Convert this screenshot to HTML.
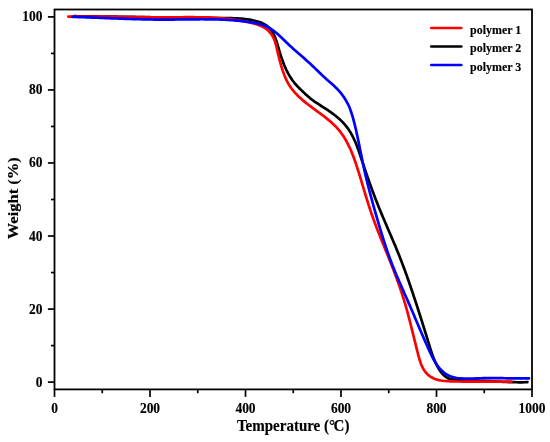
<!DOCTYPE html>
<html><head><meta charset="utf-8"><title>TGA curves</title>
<style>
html,body{margin:0;padding:0;background:#fff;}
body{width:550px;height:442px;overflow:hidden;}
svg{display:block;}
text{font-family:"Liberation Serif","Times New Roman",serif;font-weight:bold;fill:#000;stroke:#000;stroke-width:0.15px;}
.tk{font-size:14.5px;}
.lg{font-size:12.9px;}
.ti{font-size:16px;}
</style></head><body>
<svg width="550" height="442" viewBox="0 0 550 442">
<rect width="550" height="442" fill="#fff"/>
<g fill="none" stroke-linecap="round" stroke-linejoin="round" stroke-width="2.7">
<path stroke="#000000" d="M74.00,16.20L75.94,16.22L77.89,16.24L79.83,16.26L81.77,16.28L83.72,16.30L85.66,16.32L87.60,16.35L89.55,16.37L91.49,16.39L93.44,16.42L95.38,16.44L97.33,16.46L99.27,16.49L101.21,16.51L103.16,16.54L105.10,16.56L107.05,16.59L108.99,16.62L110.94,16.64L112.88,16.67L114.83,16.70L116.77,16.72L118.72,16.75L120.66,16.78L122.61,16.80L124.55,16.83L126.50,16.86L128.45,16.89L130.39,16.92L132.34,16.94L134.28,16.97L136.23,17.00L138.17,17.03L140.12,17.06L142.06,17.09L144.01,17.11L145.95,17.14L147.90,17.17L149.84,17.20L151.79,17.23L153.73,17.25L155.67,17.28L157.62,17.31L159.56,17.34L161.51,17.36L163.45,17.39L165.40,17.42L167.34,17.45L169.28,17.47L171.23,17.50L173.17,17.52L175.12,17.55L177.06,17.58L179.00,17.60L180.95,17.63L182.89,17.65L184.83,17.67L186.77,17.70L188.72,17.72L190.66,17.75L192.60,17.77L194.55,17.79L196.49,17.81L198.43,17.84L200.38,17.86L202.32,17.88L204.27,17.90L206.21,17.92L208.16,17.94L210.10,17.96L212.05,17.98L213.99,18.00L215.94,18.02L217.89,18.04L219.83,18.05L221.78,18.07L223.73,18.09L225.68,18.11L227.63,18.13L229.58,18.16L231.53,18.20L233.47,18.25L235.42,18.32L237.36,18.41L239.30,18.52L241.24,18.67L243.18,18.84L245.11,19.05L247.03,19.29L248.95,19.58L250.87,19.91L252.78,20.29L254.69,20.71L256.58,21.20L258.47,21.75L260.32,22.37L262.12,23.10L263.86,23.92L265.51,24.88L267.08,25.96L268.53,27.20L269.86,28.59L271.07,30.09L272.16,31.68L273.14,33.33L274.02,35.04L274.81,36.80L275.53,38.60L276.19,40.43L276.81,42.29L277.39,44.18L277.94,46.07L278.49,47.97L279.04,49.87L279.60,51.77L280.18,53.65L280.77,55.53L281.38,57.39L282.02,59.25L282.67,61.09L283.36,62.91L284.07,64.72L284.82,66.51L285.60,68.28L286.41,70.02L287.27,71.74L288.17,73.44L289.11,75.11L290.10,76.76L291.14,78.37L292.23,79.95L293.37,81.50L294.57,83.02L295.83,84.50L297.14,85.95L298.49,87.37L299.87,88.77L301.28,90.15L302.71,91.51L304.14,92.87L305.57,94.21L307.02,95.53L308.47,96.82L309.95,98.07L311.46,99.26L312.99,100.41L314.55,101.53L316.13,102.61L317.73,103.66L319.34,104.71L320.96,105.75L322.59,106.79L324.23,107.84L325.86,108.90L327.50,109.99L329.12,111.09L330.74,112.22L332.33,113.37L333.91,114.54L335.47,115.75L336.99,116.98L338.48,118.24L339.94,119.54L341.35,120.87L342.72,122.23L344.04,123.64L345.30,125.08L346.50,126.57L347.65,128.09L348.74,129.66L349.78,131.26L350.77,132.90L351.71,134.57L352.61,136.27L353.47,137.99L354.29,139.74L355.08,141.51L355.84,143.31L356.57,145.12L357.27,146.94L357.95,148.78L358.62,150.63L359.27,152.49L359.91,154.35L360.53,156.22L361.15,158.09L361.77,159.96L362.39,161.83L363.01,163.69L363.63,165.54L364.25,167.40L364.88,169.25L365.51,171.10L366.14,172.94L366.77,174.78L367.40,176.62L368.04,178.45L368.68,180.28L369.33,182.11L369.98,183.93L370.64,185.75L371.29,187.57L371.96,189.39L372.63,191.20L373.30,193.01L373.98,194.82L374.67,196.63L375.36,198.44L376.06,200.24L376.77,202.04L377.48,203.84L378.20,205.64L378.93,207.44L379.66,209.23L380.40,211.02L381.14,212.82L381.89,214.61L382.64,216.40L383.40,218.19L384.16,219.98L384.92,221.77L385.69,223.56L386.46,225.35L387.23,227.13L388.00,228.92L388.77,230.71L389.54,232.50L390.31,234.29L391.07,236.08L391.84,237.87L392.61,239.67L393.37,241.46L394.13,243.25L394.88,245.05L395.63,246.85L396.38,248.65L397.12,250.45L397.86,252.25L398.59,254.05L399.31,255.86L400.02,257.67L400.73,259.48L401.43,261.29L402.13,263.11L402.82,264.93L403.50,266.75L404.17,268.57L404.84,270.39L405.51,272.22L406.16,274.04L406.82,275.87L407.46,277.70L408.11,279.53L408.75,281.37L409.38,283.20L410.01,285.04L410.64,286.87L411.26,288.71L411.89,290.55L412.50,292.39L413.12,294.23L413.73,296.07L414.35,297.91L414.95,299.76L415.56,301.60L416.16,303.45L416.77,305.29L417.37,307.14L417.96,308.99L418.56,310.83L419.15,312.68L419.75,314.53L420.34,316.39L420.92,318.24L421.51,320.09L422.10,321.95L422.68,323.80L423.26,325.66L423.84,327.52L424.42,329.37L425.00,331.23L425.57,333.10L426.15,334.96L426.72,336.82L427.29,338.69L427.87,340.55L428.44,342.42L429.01,344.29L429.58,346.15L430.15,348.02L430.73,349.89L431.33,351.74L431.95,353.59L432.59,355.43L433.27,357.26L433.97,359.07L434.72,360.86L435.51,362.63L436.35,364.39L437.24,366.11L438.20,367.81L439.22,369.48L440.31,371.12L441.47,372.68L442.73,374.15L444.08,375.49L445.53,376.67L447.09,377.65L448.78,378.42L450.56,378.99L452.43,379.39L454.36,379.67L456.33,379.85L458.33,379.96L460.32,380.04L462.31,380.12L464.29,380.19L466.25,380.26L468.21,380.33L470.15,380.40L472.09,380.46L474.03,380.53L475.96,380.60L477.89,380.67L479.81,380.74L481.74,380.81L483.67,380.89L485.60,380.98L487.53,381.07L489.47,381.16L491.41,381.25L493.35,381.35L495.29,381.45L497.24,381.54L499.19,381.64L501.13,381.73L503.08,381.82L505.03,381.90L506.98,381.98L508.93,382.05L510.88,382.12L512.83,382.17L514.78,382.22L516.73,382.25L518.67,382.28L520.62,382.29L522.56,382.28L524.50,382.26L526.43,382.22L527.40,382.20"/>
<path stroke="#ff0000" d="M68.30,16.60L70.23,16.58L72.16,16.57L74.09,16.56L76.02,16.55L77.96,16.55L79.89,16.54L81.82,16.54L83.75,16.55L85.68,16.55L87.61,16.56L89.55,16.57L91.48,16.58L93.41,16.59L95.34,16.61L97.28,16.63L99.21,16.64L101.14,16.66L103.07,16.68L105.01,16.71L106.94,16.73L108.87,16.75L110.81,16.78L112.74,16.81L114.67,16.83L116.61,16.86L118.54,16.89L120.47,16.91L122.41,16.94L124.34,16.97L126.27,17.00L128.21,17.02L130.14,17.05L132.07,17.07L134.01,17.10L135.94,17.13L137.87,17.15L139.81,17.17L141.74,17.19L143.67,17.21L145.61,17.23L147.54,17.25L149.47,17.27L151.41,17.28L153.34,17.29L155.27,17.30L157.21,17.31L159.14,17.32L161.07,17.32L163.01,17.33L164.94,17.32L166.87,17.32L168.80,17.31L170.74,17.31L172.67,17.29L174.60,17.28L176.53,17.27L178.46,17.25L180.39,17.24L182.33,17.23L184.26,17.22L186.19,17.21L188.12,17.21L190.05,17.20L191.98,17.21L193.91,17.22L195.84,17.23L197.77,17.25L199.70,17.28L201.62,17.31L203.55,17.35L205.48,17.40L207.41,17.46L209.33,17.53L211.26,17.61L213.19,17.71L215.11,17.81L217.04,17.93L218.96,18.06L220.89,18.20L222.81,18.36L224.73,18.53L226.65,18.72L228.58,18.93L230.50,19.15L232.42,19.39L234.34,19.65L236.26,19.92L238.18,20.22L240.09,20.54L242.01,20.88L243.93,21.24L245.84,21.62L247.76,22.02L249.67,22.45L251.59,22.90L253.49,23.39L255.38,23.92L257.24,24.50L259.06,25.14L260.83,25.87L262.55,26.67L264.20,27.58L265.77,28.59L267.25,29.72L268.64,30.98L269.93,32.36L271.11,33.85L272.18,35.45L273.14,37.12L273.99,38.87L274.72,40.67L275.34,42.52L275.88,44.40L276.35,46.30L276.80,48.21L277.23,50.11L277.66,52.01L278.10,53.90L278.55,55.78L279.00,57.65L279.47,59.52L279.96,61.38L280.46,63.23L280.98,65.08L281.53,66.93L282.11,68.76L282.71,70.60L283.35,72.42L284.02,74.25L284.73,76.07L285.48,77.87L286.28,79.65L287.13,81.40L288.04,83.11L289.00,84.77L290.03,86.39L291.12,87.95L292.26,89.48L293.45,90.96L294.69,92.40L295.98,93.81L297.30,95.18L298.66,96.52L300.06,97.83L301.49,99.12L302.96,100.38L304.44,101.62L305.95,102.84L307.48,104.05L309.03,105.24L310.59,106.42L312.16,107.59L313.74,108.76L315.32,109.92L316.91,111.08L318.49,112.24L320.07,113.40L321.65,114.57L323.21,115.74L324.75,116.93L326.28,118.13L327.79,119.35L329.28,120.59L330.74,121.84L332.17,123.12L333.57,124.43L334.94,125.76L336.26,127.12L337.55,128.52L338.79,129.95L339.98,131.42L341.13,132.92L342.24,134.46L343.30,136.03L344.32,137.63L345.31,139.26L346.26,140.92L347.18,142.60L348.06,144.30L348.91,146.03L349.73,147.78L350.52,149.54L351.29,151.32L352.03,153.12L352.75,154.93L353.45,156.76L354.13,158.59L354.79,160.43L355.43,162.28L356.06,164.14L356.68,166.00L357.29,167.86L357.88,169.72L358.47,171.58L359.05,173.44L359.63,175.30L360.20,177.16L360.76,179.01L361.32,180.87L361.87,182.72L362.43,184.57L362.98,186.43L363.53,188.28L364.08,190.12L364.63,191.97L365.18,193.82L365.74,195.66L366.30,197.50L366.86,199.34L367.43,201.17L368.00,203.01L368.58,204.84L369.16,206.67L369.76,208.49L370.36,210.32L370.97,212.14L371.59,213.96L372.23,215.77L372.87,217.58L373.52,219.39L374.18,221.20L374.85,223.01L375.53,224.81L376.22,226.61L376.91,228.41L377.61,230.21L378.31,232.01L379.02,233.81L379.73,235.60L380.45,237.40L381.17,239.19L381.89,240.98L382.62,242.78L383.35,244.57L384.07,246.37L384.80,248.16L385.53,249.96L386.26,251.75L386.99,253.55L387.72,255.35L388.44,257.15L389.16,258.95L389.88,260.75L390.59,262.55L391.31,264.36L392.01,266.17L392.72,267.98L393.41,269.79L394.11,271.60L394.79,273.41L395.47,275.23L396.15,277.04L396.82,278.86L397.48,280.68L398.13,282.50L398.78,284.32L399.42,286.15L400.05,287.97L400.67,289.80L401.29,291.63L401.89,293.46L402.49,295.29L403.07,297.12L403.65,298.96L404.21,300.79L404.76,302.63L405.31,304.47L405.84,306.31L406.36,308.15L406.88,310.00L407.39,311.84L407.89,313.69L408.38,315.54L408.87,317.40L409.35,319.25L409.83,321.11L410.31,322.97L410.78,324.84L411.24,326.70L411.71,328.57L412.17,330.44L412.63,332.32L413.09,334.20L413.56,336.08L414.02,337.96L414.48,339.85L414.95,341.75L415.41,343.64L415.88,345.54L416.36,347.44L416.83,349.35L417.32,351.26L417.81,353.18L418.30,355.10L418.81,357.01L419.35,358.91L419.92,360.79L420.55,362.63L421.22,364.43L421.97,366.19L422.79,367.88L423.70,369.51L424.71,371.05L425.83,372.51L427.07,373.88L428.43,375.14L429.94,376.28L431.57,377.30L433.30,378.20L435.12,378.98L437.00,379.62L438.92,380.12L440.85,380.50L442.81,380.78L444.76,380.97L446.72,381.12L448.67,381.23L450.61,381.32L452.55,381.39L454.48,381.44L456.41,381.48L458.33,381.50L460.25,381.52L462.16,381.53L464.08,381.53L466.00,381.53L467.91,381.53L469.83,381.53L471.76,381.53L473.68,381.53L475.61,381.54L477.54,381.55L479.48,381.57L481.41,381.58L483.35,381.60L485.29,381.61L487.23,381.63L489.17,381.65L491.11,381.66L493.05,381.68L494.99,381.69L496.93,381.70L498.86,381.71L500.80,381.72L502.73,381.73L504.66,381.73L506.59,381.72L508.52,381.72L510.44,381.71L511.40,381.70"/>
<path stroke="#0000ff" d="M72.30,16.90L74.25,16.95L76.20,17.01L78.15,17.07L80.10,17.13L82.05,17.19L84.00,17.26L85.95,17.33L87.90,17.40L89.85,17.47L91.80,17.54L93.75,17.61L95.70,17.68L97.65,17.76L99.60,17.83L101.55,17.91L103.50,17.98L105.45,18.06L107.40,18.14L109.35,18.21L111.30,18.29L113.24,18.36L115.19,18.44L117.14,18.51L119.09,18.58L121.04,18.65L122.99,18.72L124.94,18.79L126.89,18.86L128.84,18.92L130.79,18.99L132.74,19.05L134.69,19.10L136.64,19.16L138.59,19.21L140.54,19.26L142.49,19.31L144.44,19.36L146.39,19.40L148.34,19.44L150.29,19.47L152.24,19.50L154.19,19.53L156.14,19.55L158.09,19.57L160.04,19.58L161.99,19.59L163.95,19.59L165.90,19.59L167.85,19.58L169.80,19.57L171.75,19.56L173.70,19.54L175.66,19.52L177.61,19.50L179.56,19.48L181.51,19.46L183.47,19.43L185.42,19.41L187.37,19.38L189.32,19.36L191.28,19.34L193.23,19.32L195.18,19.30L197.13,19.29L199.08,19.28L201.03,19.27L202.99,19.27L204.94,19.28L206.89,19.29L208.84,19.31L210.79,19.33L212.74,19.36L214.69,19.40L216.64,19.45L218.59,19.51L220.53,19.58L222.48,19.65L224.43,19.74L226.38,19.84L228.32,19.95L230.27,20.08L232.21,20.22L234.16,20.37L236.10,20.53L238.05,20.71L239.99,20.90L241.93,21.11L243.87,21.34L245.81,21.58L247.75,21.84L249.69,22.11L251.63,22.41L253.56,22.74L255.48,23.10L257.38,23.50L259.26,23.96L261.12,24.48L262.95,25.07L264.74,25.73L266.49,26.47L268.19,27.31L269.85,28.24L271.47,29.25L273.05,30.35L274.59,31.51L276.11,32.74L277.59,34.01L279.06,35.33L280.51,36.67L281.94,38.05L283.37,39.43L284.79,40.83L286.21,42.22L287.64,43.59L289.07,44.95L290.51,46.29L291.96,47.61L293.41,48.92L294.87,50.21L296.33,51.49L297.79,52.77L299.25,54.04L300.71,55.31L302.17,56.58L303.63,57.85L305.09,59.12L306.53,60.41L307.98,61.70L309.41,63.00L310.84,64.32L312.26,65.65L313.67,67.00L315.07,68.36L316.48,69.72L317.88,71.08L319.29,72.45L320.70,73.81L322.12,75.16L323.55,76.50L324.99,77.83L326.44,79.14L327.91,80.43L329.38,81.72L330.85,83.01L332.31,84.31L333.75,85.62L335.17,86.95L336.56,88.31L337.91,89.70L339.22,91.14L340.49,92.62L341.70,94.14L342.87,95.70L343.99,97.30L345.05,98.93L346.06,100.60L347.01,102.30L347.90,104.03L348.74,105.79L349.51,107.57L350.22,109.38L350.89,111.21L351.51,113.06L352.09,114.93L352.65,116.80L353.17,118.68L353.68,120.57L354.17,122.46L354.65,124.36L355.12,126.25L355.57,128.15L356.02,130.05L356.45,131.96L356.87,133.86L357.29,135.77L357.70,137.68L358.10,139.59L358.49,141.50L358.89,143.41L359.27,145.32L359.66,147.23L360.04,149.14L360.42,151.05L360.80,152.97L361.19,154.88L361.57,156.79L361.95,158.70L362.34,160.61L362.74,162.52L363.14,164.43L363.54,166.34L363.95,168.24L364.37,170.15L364.80,172.05L365.24,173.95L365.68,175.85L366.13,177.74L366.59,179.64L367.05,181.53L367.52,183.43L368.00,185.32L368.48,187.21L368.97,189.10L369.46,190.98L369.96,192.87L370.46,194.75L370.97,196.64L371.48,198.52L372.00,200.40L372.52,202.28L373.04,204.16L373.57,206.04L374.09,207.92L374.62,209.80L375.16,211.68L375.69,213.55L376.23,215.43L376.77,217.31L377.31,219.18L377.85,221.05L378.40,222.93L378.95,224.80L379.50,226.67L380.06,228.54L380.62,230.41L381.19,232.27L381.76,234.14L382.33,236.00L382.92,237.86L383.50,239.72L384.10,241.58L384.70,243.43L385.31,245.28L385.92,247.13L386.55,248.98L387.18,250.82L387.82,252.66L388.47,254.50L389.12,256.34L389.79,258.17L390.46,260.00L391.15,261.83L391.85,263.65L392.55,265.47L393.27,267.29L394.00,269.10L394.73,270.91L395.48,272.71L396.23,274.51L396.99,276.31L397.76,278.11L398.54,279.91L399.31,281.70L400.10,283.49L400.88,285.28L401.67,287.07L402.46,288.86L403.25,290.64L404.04,292.43L404.83,294.21L405.62,295.99L406.41,297.78L407.19,299.56L407.98,301.34L408.75,303.13L409.53,304.91L410.30,306.70L411.07,308.48L411.83,310.27L412.60,312.05L413.36,313.84L414.12,315.62L414.88,317.41L415.64,319.20L416.40,320.98L417.16,322.77L417.92,324.56L418.69,326.35L419.45,328.14L420.21,329.93L420.98,331.72L421.75,333.51L422.52,335.30L423.30,337.09L424.08,338.89L424.86,340.68L425.65,342.48L426.44,344.27L427.24,346.07L428.04,347.87L428.85,349.66L429.67,351.46L430.50,353.25L431.36,355.03L432.24,356.79L433.15,358.53L434.10,360.25L435.10,361.93L436.14,363.58L437.24,365.19L438.40,366.76L439.63,368.28L440.93,369.73L442.29,371.10L443.73,372.37L445.24,373.53L446.83,374.56L448.50,375.44L450.23,376.19L452.03,376.81L453.88,377.31L455.77,377.71L457.69,378.02L459.64,378.25L461.60,378.41L463.56,378.53L465.52,378.59L467.48,378.62L469.45,378.62L471.41,378.58L473.38,378.53L475.34,378.47L477.30,378.39L479.27,378.31L481.23,378.24L483.18,378.18L485.14,378.13L487.09,378.10L489.04,378.08L490.99,378.07L492.94,378.08L494.89,378.09L496.84,378.12L498.78,378.15L500.73,378.18L502.67,378.22L504.61,378.26L506.56,378.30L508.50,378.34L510.45,378.38L512.39,378.41L514.34,378.43L516.29,378.45L518.24,378.46L520.19,378.47L522.14,378.45L524.10,378.43L526.06,378.39L528.02,378.33L529.00,378.30"/>
</g>
<g stroke="#000" stroke-width="1.7" fill="none">
<rect stroke-width="1.8" x="54.5" y="9.5" width="477.5" height="379.9"/>
<line x1="54.50" y1="389.40" x2="54.50" y2="396.90"/>
<line x1="102.25" y1="389.40" x2="102.25" y2="393.20"/>
<line x1="150.00" y1="389.40" x2="150.00" y2="396.90"/>
<line x1="197.75" y1="389.40" x2="197.75" y2="393.20"/>
<line x1="245.50" y1="389.40" x2="245.50" y2="396.90"/>
<line x1="293.25" y1="389.40" x2="293.25" y2="393.20"/>
<line x1="341.00" y1="389.40" x2="341.00" y2="396.90"/>
<line x1="388.75" y1="389.40" x2="388.75" y2="393.20"/>
<line x1="436.50" y1="389.40" x2="436.50" y2="396.90"/>
<line x1="484.25" y1="389.40" x2="484.25" y2="393.20"/>
<line x1="532.00" y1="389.40" x2="532.00" y2="396.90"/>
<line x1="54.50" y1="382.10" x2="47.90" y2="382.10"/>
<line x1="54.50" y1="345.58" x2="51.00" y2="345.58"/>
<line x1="54.50" y1="309.06" x2="47.90" y2="309.06"/>
<line x1="54.50" y1="272.54" x2="51.00" y2="272.54"/>
<line x1="54.50" y1="236.02" x2="47.90" y2="236.02"/>
<line x1="54.50" y1="199.50" x2="51.00" y2="199.50"/>
<line x1="54.50" y1="162.98" x2="47.90" y2="162.98"/>
<line x1="54.50" y1="126.46" x2="51.00" y2="126.46"/>
<line x1="54.50" y1="89.94" x2="47.90" y2="89.94"/>
<line x1="54.50" y1="53.42" x2="51.00" y2="53.42"/>
<line x1="54.50" y1="16.90" x2="47.90" y2="16.90"/>
</g>
<text class="tk" transform="translate(54.50,413.4) scale(0.93,1)" text-anchor="middle">0</text>
<text class="tk" transform="translate(150.00,413.4) scale(0.93,1)" text-anchor="middle">200</text>
<text class="tk" transform="translate(245.50,413.4) scale(0.93,1)" text-anchor="middle">400</text>
<text class="tk" transform="translate(341.00,413.4) scale(0.93,1)" text-anchor="middle">600</text>
<text class="tk" transform="translate(436.50,413.4) scale(0.93,1)" text-anchor="middle">800</text>
<text class="tk" transform="translate(532.00,413.4) scale(0.93,1)" text-anchor="middle">1000</text>
<text class="tk" transform="translate(42.6,386.60) scale(0.93,1)" text-anchor="end">0</text>
<text class="tk" transform="translate(42.6,313.56) scale(0.93,1)" text-anchor="end">20</text>
<text class="tk" transform="translate(42.6,240.52) scale(0.93,1)" text-anchor="end">40</text>
<text class="tk" transform="translate(42.6,167.48) scale(0.93,1)" text-anchor="end">60</text>
<text class="tk" transform="translate(42.6,94.44) scale(0.93,1)" text-anchor="end">80</text>
<text class="tk" transform="translate(42.6,21.40) scale(0.93,1)" text-anchor="end">100</text>
<line x1="431.3" y1="28.0" x2="461.3" y2="28.0" stroke="#ff0000" stroke-width="2.7" stroke-linecap="round"/>
<text class="lg" transform="translate(470.0,33.80) scale(0.93,1)">polymer 1</text>
<line x1="431.3" y1="46.5" x2="461.3" y2="46.5" stroke="#000000" stroke-width="2.7" stroke-linecap="round"/>
<text class="lg" transform="translate(470.0,52.30) scale(0.93,1)">polymer 2</text>
<line x1="431.3" y1="65.0" x2="461.3" y2="65.0" stroke="#0000ff" stroke-width="2.7" stroke-linecap="round"/>
<text class="lg" transform="translate(470.0,70.80) scale(0.93,1)">polymer 3</text>
<text class="ti" transform="translate(293.2,431.3) scale(0.938,1)" text-anchor="middle">Temperature (°<tspan dx="-1.5">C)</tspan></text>
<text class="ti" style="font-size:16.5px" transform="translate(17.9,198.25) rotate(-90) scale(1,0.93)" text-anchor="middle">Weight (%)</text>
</svg>
</body></html>
